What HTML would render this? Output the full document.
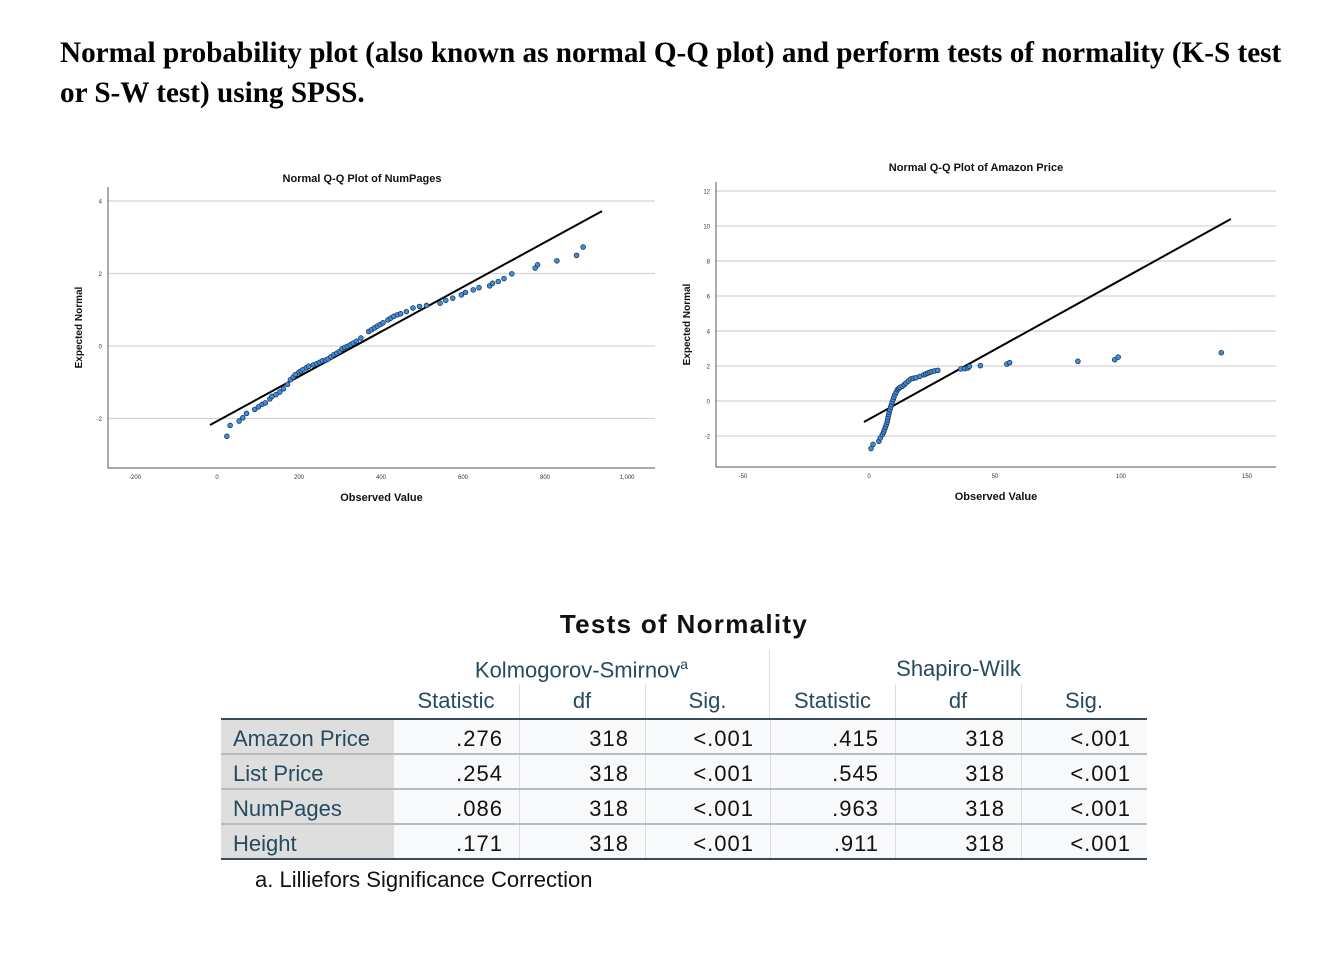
<!DOCTYPE html>
<html><head><meta charset="utf-8">
<style>
body{margin:0;width:1330px;height:956px;background:#fff;position:relative;overflow:hidden;font-family:"Liberation Sans",sans-serif}
#title{position:absolute;left:60px;top:33px;width:1235px;font-family:"Liberation Serif",serif;font-weight:bold;font-size:29.2px;line-height:40px;color:#000}
svg{position:absolute;left:0;top:0}
.t{position:absolute;font-family:"Liberation Sans",sans-serif;white-space:nowrap}
</style></head><body>
<div id="title">Normal probability plot (also known as normal Q-Q plot) and perform tests of normality (K-S test or S-W test) using SPSS.</div>
<svg id="charts" width="1330" height="956"></svg>
<div id="table"></div>
<script>
// ---- Chart 1: NumPages ----
const npX=[24,32,54,63,72,92,101,110,118,129,134,144,153,162,172,179,186,191,200,205,210,218,224,235,243,250,257,265,271,278,285,292,299,305,312,318,325,332,340,351,370,377,384,391,398,405,417,424,431,440,448,462,478,494,511,544,558,575,596,606,625,639,665,672,686,700,719,776,782,829,877,893];
const npY=[-2.49,-2.19,-2.07,-1.98,-1.86,-1.75,-1.68,-1.61,-1.57,-1.46,-1.39,-1.34,-1.27,-1.18,-1.06,-0.93,-0.86,-0.79,-0.72,-0.69,-0.65,-0.6,-0.56,-0.52,-0.49,-0.45,-0.41,-0.39,-0.36,-0.3,-0.24,-0.2,-0.15,-0.08,-0.04,-0.01,0.03,0.08,0.13,0.22,0.4,0.45,0.5,0.55,0.59,0.64,0.72,0.77,0.82,0.86,0.89,0.95,1.05,1.09,1.12,1.18,1.26,1.32,1.41,1.48,1.55,1.61,1.66,1.73,1.78,1.86,1.99,2.15,2.24,2.35,2.5,2.73];
const npLine=[[-17,-2.18],[939,3.72]];
const npXTicks=[-200,0,200,400,600,800,1000];
const npXLabels=["-200","0","200","400","600","800","1,000"];
const npYTicks=[4,2,0,-2];
// ---- Chart 2: Amazon Price ----
const apX=[0.8,1.6,3.9,4.5,5.3,5.8,6.1,6.5,6.9,7.2,7.4,7.6,7.8,8.0,8.3,8.6,8.9,9.2,9.6,9.9,10.3,10.8,11.3,11.8,12.3,13.2,14.0,14.7,15.6,16.6,17.6,18.7,20.2,21.8,22.6,23.4,24.2,24.9,26.0,27.3,36.4,38,39.3,39.8,44.2,54.7,55.8,82.9,97.5,98.9,139.8];
const apY=[-2.72,-2.48,-2.3,-2.11,-1.92,-1.78,-1.64,-1.5,-1.35,-1.2,-1.07,-0.92,-0.78,-0.64,-0.5,-0.35,-0.21,-0.06,0.08,0.22,0.36,0.5,0.65,0.72,0.78,0.84,0.93,1.03,1.14,1.26,1.3,1.33,1.41,1.5,1.55,1.6,1.64,1.68,1.72,1.75,1.83,1.85,1.89,1.98,2.02,2.11,2.19,2.27,2.36,2.51,2.76];
const apLine=[[-2,-1.2],[143.6,10.4]];
const apXTicks=[-50,0,50,100,150];
const apXLabels=["-50","0","50","100","150"];
const apYTicks=[12,10,8,6,4,2,0,-2];

const NS="http://www.w3.org/2000/svg";
const svg=document.getElementById('charts');
function mk(tag,attrs,parent){const e=document.createElementNS(NS,tag);for(const k in attrs)e.setAttribute(k,attrs[k]);(parent||svg).appendChild(e);return e;}

function chart(cfg){
  const sx=v=>cfg.x0px+(v-cfg.x0)*cfg.kx;
  const sy=v=>cfg.y0px-(v-cfg.y0)*cfg.ky;
  const g=mk('g',{});
  
  
  cfg.yTicks.forEach(t=>{
    const l=mk('line',{x1:cfg.left,x2:cfg.right,y1:sy(t),y2:sy(t),stroke:'#d4d4d4','stroke-width':1.2},g);
    
    
    const tx=mk('text',{x:cfg.left-6,y:sy(t)+2.5,'font-size':6,'text-anchor':'end',fill:'#333','font-family':'Liberation Sans'},g);
    tx.textContent=t;
    
    
  });
  cfg.xTicks.forEach((t,i)=>{
    const tx=mk('text',{x:sx(t),y:cfg.bottom+11,'font-size':6,'text-anchor':'middle',fill:'#333','font-family':'Liberation Sans'},g);
    tx.textContent=cfg.xLabels[i];
    
    
  });
  const ax=mk('path',{d:`M${cfg.left} ${cfg.top}V${cfg.bottom}H${cfg.right}`,fill:'none',stroke:'#555','stroke-width':1},g);
  
  
  const ln=mk('line',{x1:sx(cfg.line[0][0]),y1:sy(cfg.line[0][1]),x2:sx(cfg.line[1][0]),y2:sy(cfg.line[1][1]),stroke:'#000','stroke-width':2},g);
  
  
  cfg.xs.forEach((v,i)=>{
    const c=mk('circle',{cx:sx(v),cy:sy(cfg.ys[i]),r:2.4,fill:'#3a8ee6',stroke:'#1a2a3a','stroke-width':0.7},g);
    
    
  });
  const tt=mk('text',{x:cfg.titleX,y:cfg.titleY,'font-size':11,'font-weight':'bold','text-anchor':'middle',fill:'#111','font-family':'Liberation Sans'},g);
  tt.textContent=cfg.title;
  
  
  const xt=mk('text',{x:(cfg.left+cfg.right)/2,y:cfg.bottom+33,'font-size':11,'font-weight':'bold','text-anchor':'middle',fill:'#111','font-family':'Liberation Sans'},g);
  xt.textContent='Observed Value';
  
  
  const yx=cfg.left-26,yy=(cfg.top+cfg.bottom)/2;
  const yt=mk('text',{x:yx,y:yy,'font-size':10,'font-weight':'bold','text-anchor':'middle',fill:'#111','font-family':'Liberation Sans',transform:`rotate(-90 ${yx} ${yy})`},g);
  yt.textContent='Expected Normal';
  
  
}
chart({name:'qq-plot-numpages',xs:npX,ys:npY,line:npLine,xTicks:npXTicks,xLabels:npXLabels,yTicks:npYTicks,
  x0:0,x0px:217,kx:0.41,y0:0,y0px:346,ky:36.25,left:108,right:655,top:187,bottom:468,
  title:'Normal Q-Q Plot of NumPages',titleX:362,titleY:182});
chart({name:'qq-plot-amazon-price',xs:apX,ys:apY,line:apLine,xTicks:apXTicks,xLabels:apXLabels,yTicks:apYTicks,
  x0:0,x0px:869,kx:2.52,y0:0,y0px:401,ky:17.5,left:716,right:1276,top:182,bottom:467,
  title:'Normal Q-Q Plot of Amazon Price',titleX:976,titleY:171});

// ---- Table ----
const rows=["Amazon Price","List Price","NumPages","Height"];
const vals=[[".276","318","<.001",".415","318","<.001"],[".254","318","<.001",".545","318","<.001"],[".086","318","<.001",".963","318","<.001"],[".171","318","<.001",".911","318","<.001"]];
const T=document.getElementById('table');
const colX=[221,393,519,645,770,895,1021,1147];
function add(html,style,name){const d=document.createElement('div');d.className='t';d.style.cssText=style;d.innerHTML=html;T.appendChild(d);return d;}
add('Tests of Normality','left:221px;width:926px;top:609px;text-align:center;font-size:26px;font-weight:bold;color:#111;letter-spacing:1.3px','table-title');
add('Kolmogorov-Smirnov<sup style="font-size:14px">a</sup>','left:393px;width:377px;top:656px;text-align:center;font-size:22px;color:#264a60','ks-header');
add('Shapiro-Wilk','left:770px;width:377px;top:656px;text-align:center;font-size:22px;color:#264a60','sw-header');
add('','left:769px;top:650px;width:1px;height:70px;background:#ddd','group-separator');
const hdr=["Statistic","df","Sig.","Statistic","df","Sig."];
hdr.forEach((h,i)=>{
  add(h,`left:${colX[i+1]}px;width:${colX[i+2]-colX[i+1]}px;top:688px;text-align:center;font-size:22px;color:#264a60`,'column-header');
  if(i>0&&i!==3) add('',`left:${colX[i+1]}px;top:684px;width:1px;height:36px;background:#ddd`,'header-separator');
});
add('','left:221px;top:718px;width:926px;height:2px;background:#3b4b5b','table-top-rule');
rows.forEach((r,ri)=>{
  const top=720+ri*35;
  add(r,`left:221px;width:172px;top:${top}px;height:35px;line-height:38px;background:#dedede;padding-left:12px;box-sizing:border-box;font-size:22px;color:#264a60`,'row-label');
  vals[ri].forEach((v,ci)=>{
    add(v,`left:${colX[ci+1]}px;width:${colX[ci+2]-colX[ci+1]}px;top:${top}px;height:35px;line-height:38px;background:#f8f9fa;text-align:right;padding-right:16px;box-sizing:border-box;font-size:22px;color:#111;border-left:1px solid #ddd;letter-spacing:1px`,'table-cell');
  });
  add('',`left:221px;top:${top+33}px;width:926px;height:${ri==3?2:3}px;background:${ri==3?'#3b4b5b':'#b8bcc0'}`,'row-rule');
});
add('a. Lilliefors Significance Correction','left:255px;top:867px;font-size:22px;color:#111','table-footnote');
</script>
</body></html>
